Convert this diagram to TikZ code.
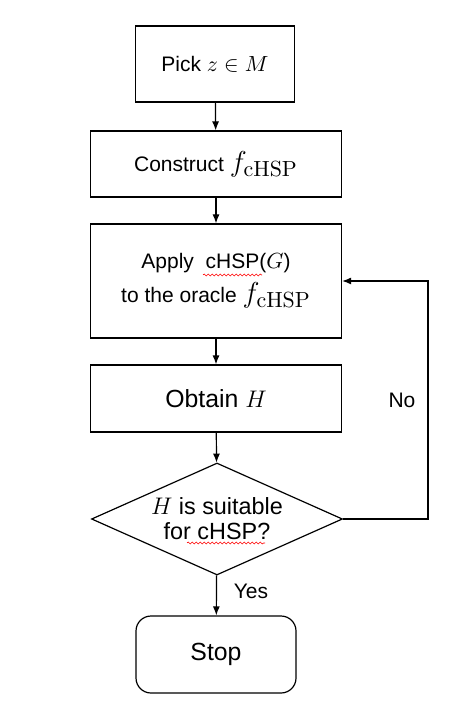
\documentclass[tikz,border=0pt]{standalone}
\usepackage[no-math]{fontspec}
\setmainfont{Liberation Sans}
\usepackage{amsmath}
\usetikzlibrary{shapes.geometric, arrows.meta, decorations.pathmorphing}

\newcommand{\fhsp}{{\fontsize{14}{17}\selectfont$f_{\mbox{\fontsize{10.5}{12}\selectfont$\mathrm{cHSP}$}}$}}

\begin{document}
\begin{tikzpicture}[x=0.5pt, y=-0.5pt, line width=0.6pt,
	stepbox/.style={draw, rectangle, inner sep=0pt, align=center, minimum width=125.5pt},
	arr/.style={-{Latex[length=4.5pt,width=3.5pt]}},
	spell/.style={red, line width=0.3pt, decorate, decoration={snake, amplitude=0.5pt, segment length=2pt}}]
		\useasboundingbox (0,0) rectangle (474,715);
		% steps of the procedure
		\node[stepbox, minimum width=79.5pt, minimum height=38pt, font=\fontsize{10.5}{13}\selectfont] (pick) at (215,64) {Pick $z \in M$};
		\node[stepbox, minimum height=33pt, font=\fontsize{10.5}{13}\selectfont] (cons) at (216,164) {Construct \fhsp};
		\node[stepbox, minimum height=57pt, font=\fontsize{10.5}{17}\selectfont] (apply) at (216,281) {Apply\ \ cHSP($G$)\\ to the oracle \fhsp};
		\node[stepbox, minimum height=33.5pt, font=\fontsize{12.4}{15}\selectfont] (obtain) at (216,398.5) {Obtain $H$};
		% the test
		\node[draw, diamond, inner sep=0pt, aspect=2.24, minimum width=125.5pt, minimum height=56pt, align=center, font=\fontsize{11.7}{12.5}\selectfont] (check) at (217,519) {$H$ is suitable\\ for cHSP?};
		% end
		\node[draw, rounded corners=7.5pt, minimum width=80pt, minimum height=38.5pt, font=\fontsize{12.4}{15}\selectfont] (stop) at (216,654.5) {Stop};
		% arrows down
		\foreach \a/\b in {pick/cons, cons/apply, apply/obtain, obtain/check, check/stop}
		{
			\draw[arr] (\a) -- (\b);
		}
		% arrow back
		\coordinate (loop) at (428,281);
		\draw[arr] (check.east) -| (loop) -- (apply.east);
		% other labels
		\node[font=\fontsize{10.5}{13}\selectfont] (no) at (402,400) {No};
		\node[font=\fontsize{10.5}{13}\selectfont] (yes) at (251,591) {Yes};
		% spell check marks
		\draw[spell] (203,275) -- (262,275);
		\draw[spell] (187,543) -- (265,543);
	\end{tikzpicture}
\end{document}
